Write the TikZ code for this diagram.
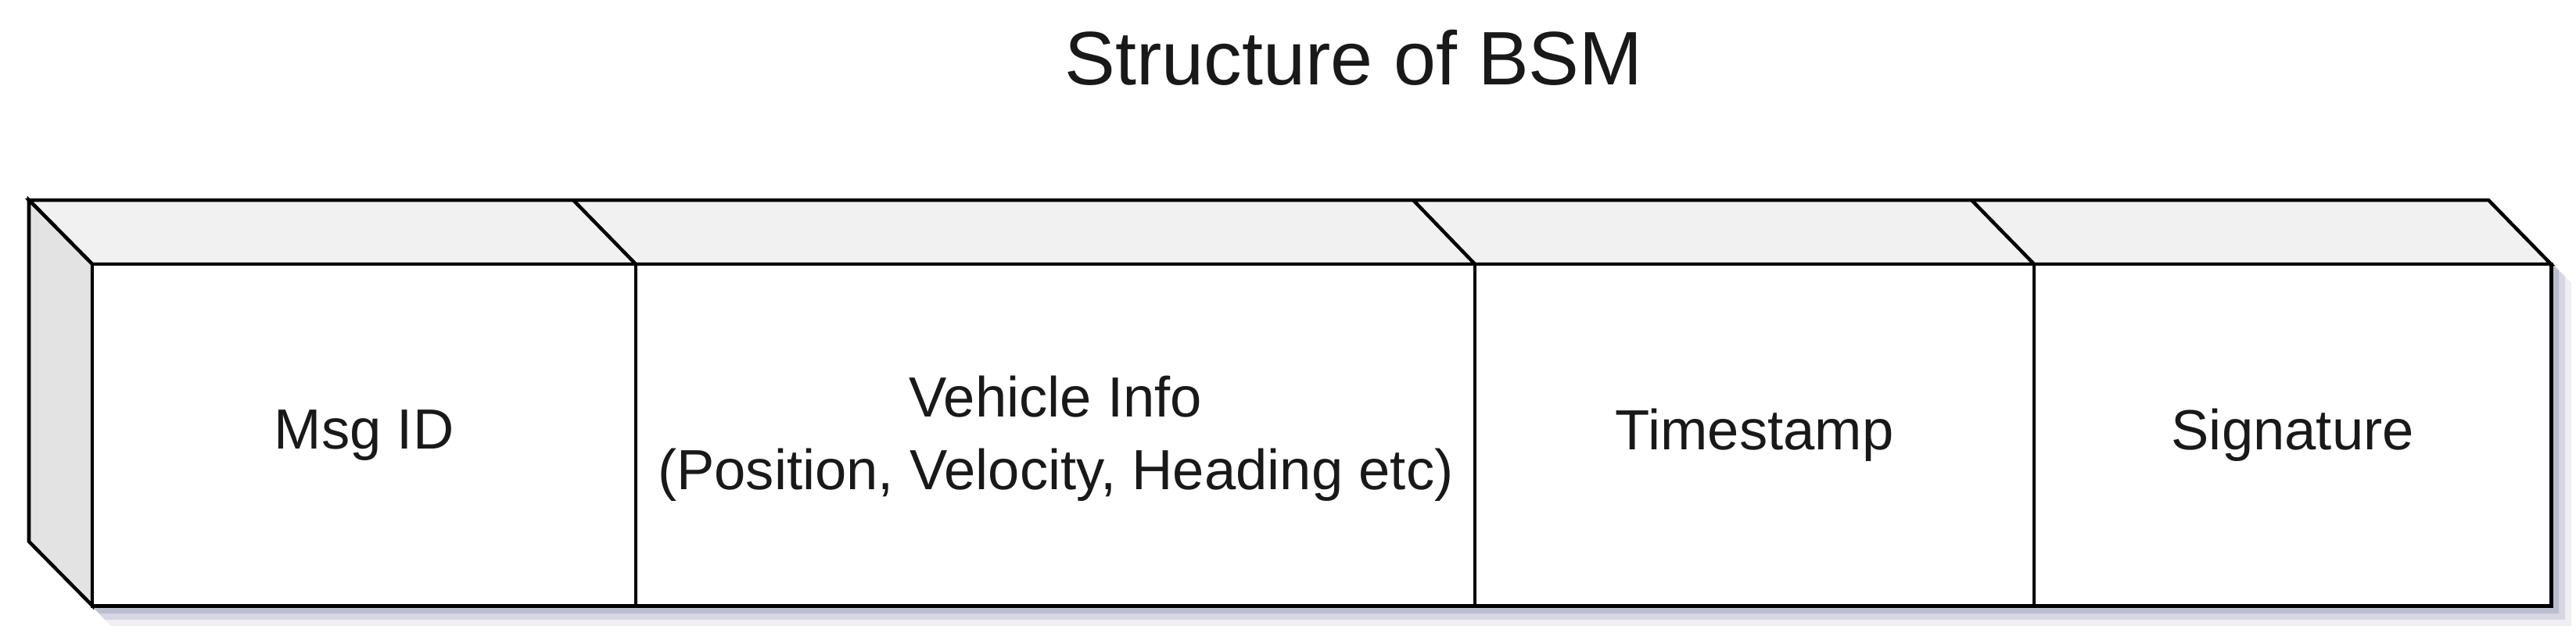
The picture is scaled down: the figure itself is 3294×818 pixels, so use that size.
\documentclass[tikz,border=0pt]{standalone}
\usepackage{fontspec}
\setmainfont{Liberation Sans}
\definecolor{topface}{HTML}{F1F1F1}
\definecolor{sideface}{HTML}{E3E3E3}
\definecolor{shadowc}{RGB}{170,172,195}
\tikzset{
  edge/.style={draw=black, line width=0.045cm, line join=miter},
  frontface/.style={edge, fill=white, rectangle, inner sep=0pt, outer sep=0pt, anchor=north west, minimum height=4.37cm},
  label/.style={font=\fontsize{20.6}{26.5}\selectfont, align=center, text=black!90},
  titletext/.style={font=\fontsize{27.6}{33}\selectfont, text=black!90, anchor=base}
}
\begin{document}
\begin{tikzpicture}[x=0.01cm, y=-0.01cm]
\useasboundingbox (0,0) rectangle (3294,818);
% shadow
\fill[shadowc, opacity=0.2] (55,274) -- (3200,274) -- (3288,362) -- (3288,801) -- (142,801) -- (55,711) -- cycle;
\fill[shadowc, opacity=0.35] (49,268) -- (3194,268) -- (3280,354) -- (3280,793) -- (134,793) -- (49,705) -- cycle;
\fill[shadowc, opacity=0.6] (44,263) -- (3189,263) -- (3272,346) -- (3272,785) -- (127,785) -- (44,700) -- cycle;
% top face
\path[edge, fill=topface] (37,256) -- (3182,256) -- (3262,338) -- (118,338) -- cycle;
% left face
\path[edge, fill=sideface] (37,256) -- (118,338) -- (118,775) -- (37,693) -- cycle;
% top dividers
\draw[edge] (733,256) -- (813,338);
\draw[edge] (1807,256) -- (1886,338);
\draw[edge] (2521,256) -- (2601,338);
% front faces
\node[frontface, minimum width=6.95cm] (f1) at (118,338) {};
\node[frontface, minimum width=10.73cm] (f2) at (813,338) {};
\node[frontface, minimum width=7.15cm] (f3) at (1886,338) {};
\node[frontface, minimum width=6.61cm] (f4) at (2601,338) {};
% labels
\node[label] (l1) at (f1.center) {Msg ID};
\node[label] (l2) at ([yshift=-0.05cm]f2.center) {Vehicle Info\\(Position, Velocity, Heading etc)};
\node[label] (l3) at (f3.center) {Timestamp};
\node[label] (l4) at (f4.center) {Signature};
% title
\node[titletext] (title) at (1731,108) {Structure of BSM};
\end{tikzpicture}
\end{document}
